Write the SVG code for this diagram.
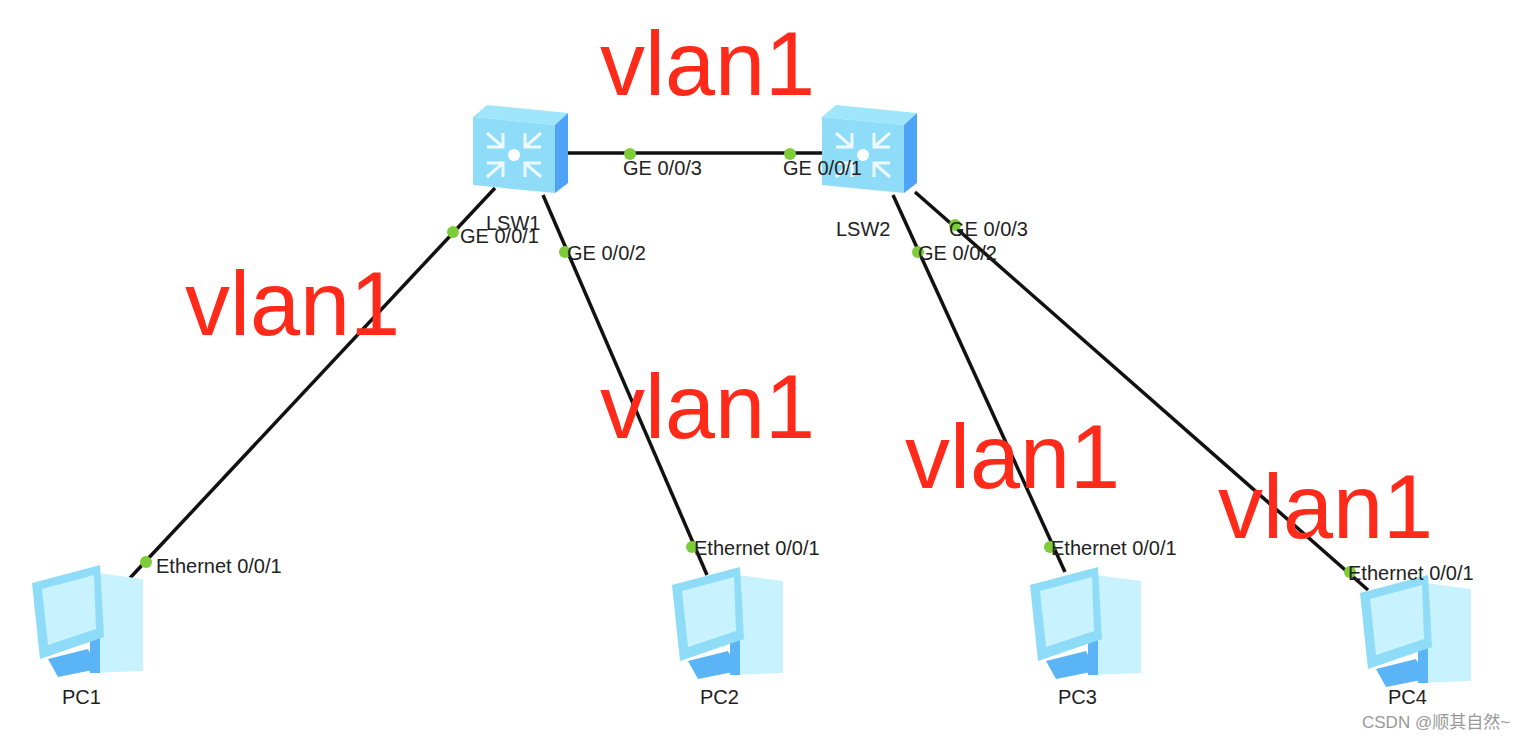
<svg xmlns="http://www.w3.org/2000/svg" width="1533" height="741" viewBox="0 0 1533 741">
<defs>
<style>
.l{stroke:#111;stroke-width:3.5;fill:none}
.d{fill:#7dcc3a}
.t{font-family:"Liberation Sans",Arial,sans-serif;font-size:20px;fill:#222}
.v{font-family:"Liberation Sans",Arial,sans-serif;font-size:90px;fill:#ff2a1a}
</style>
<g id="sw">
<path d="M0,12 L14,0 L95,8 L82,20 Z" fill="#9fe6fb"/>
<path d="M82,20 L95,8 L95,78 L82,88 Z" fill="#4da3f5"/>
<path d="M0,12 L82,20 L82,88 L0,80 Z" fill="#8fdcf8"/>
<g stroke="#fff" stroke-width="3" fill="none" opacity="0.85">
<path d="M14,28 L30,42 M14,42 L30,42 L30,28"/>
<path d="M68,28 L52,42 M68,42 L52,42 L52,28"/>
<path d="M14,72 L30,58 M14,58 L30,58 L30,72"/>
<path d="M68,72 L52,58 M68,58 L52,58 L52,72"/>
</g>
<circle cx="41" cy="50" r="6" fill="#fff"/>
</g>
<g id="pc">
<path d="M70,8 L115,14 L115,106 L62,108 Z" fill="#c8f2fd"/>
<path d="M62,8 L72,8 L72,108 L62,108 Z" fill="#5ab4f5"/>
<path d="M4,18 L72,0 L76,72 L12,94 Z" fill="#8fdcf8"/>
<path d="M14,24 L66,10 L68,64 L20,80 Z" fill="#c8f2fd"/>
<path d="M20,94 L60,84 L70,104 L30,112 Z" fill="#5ab4f5"/>
</g>
</defs>
<rect width="1533" height="741" fill="#fff"/>
<g id="connectors">
<line class="l" x1="568" y1="153" x2="822" y2="153"/>
<line class="l" x1="495" y1="188" x2="130" y2="578"/>
<line class="l" x1="543" y1="195" x2="707" y2="575"/>
<line class="l" x1="893" y1="195" x2="1065" y2="572"/>
<line class="l" x1="915" y1="192" x2="1368" y2="590"/>
</g>
<g id="LSW1"><use href="#sw" x="473" y="105"/><text class="t" x="486" y="230">LSW1</text></g>
<g id="LSW2"><use href="#sw" x="822" y="105"/><text class="t" x="836" y="236">LSW2</text></g>
<g id="PC1"><use href="#pc" x="28" y="565"/><text class="t" x="62" y="704">PC1</text></g>
<g id="PC2"><use href="#pc" x="668" y="567"/><text class="t" x="700" y="704">PC2</text></g>
<g id="PC3"><use href="#pc" x="1026" y="567"/><text class="t" x="1058" y="704">PC3</text></g>
<g id="PC4"><use href="#pc" x="1356" y="575"/><text class="t" x="1388" y="704">PC4</text></g>
<g id="ports">
<circle class="d" cx="630" cy="154" r="6"/>
<circle class="d" cx="790" cy="154" r="6"/>
<circle class="d" cx="453" cy="232" r="6"/>
<circle class="d" cx="565" cy="252" r="6"/>
<circle class="d" cx="955" cy="225" r="6"/>
<circle class="d" cx="918" cy="252" r="6"/>
<circle class="d" cx="146" cy="562" r="6"/>
<circle class="d" cx="692" cy="547" r="6"/>
<circle class="d" cx="1050" cy="547" r="6"/>
<circle class="d" cx="1350" cy="572" r="6"/>
<text class="t" x="623" y="175">GE 0/0/3</text>
<text class="t" x="783" y="175">GE 0/0/1</text>
<text class="t" x="460" y="243">GE 0/0/1</text>
<text class="t" x="567" y="260">GE 0/0/2</text>
<text class="t" x="949" y="236">GE 0/0/3</text>
<text class="t" x="918" y="260">GE 0/0/2</text>
<text class="t" x="156" y="573">Ethernet 0/0/1</text>
<text class="t" x="694" y="555">Ethernet 0/0/1</text>
<text class="t" x="1051" y="555">Ethernet 0/0/1</text>
<text class="t" x="1348" y="580">Ethernet 0/0/1</text>
</g>
<g id="labels">
<text class="v" x="600" y="95">vlan1</text>
<text class="v" x="185" y="335">vlan1</text>
<text class="v" x="600" y="438">vlan1</text>
<text class="v" x="905" y="488">vlan1</text>
<text class="v" x="1218" y="538">vlan1</text>
<text x="1362" y="728" style="font-family:'Liberation Sans','Noto Sans CJK SC',sans-serif;font-size:17px;fill:#999">CSDN @顺其自然~</text>
</g>
</svg>
